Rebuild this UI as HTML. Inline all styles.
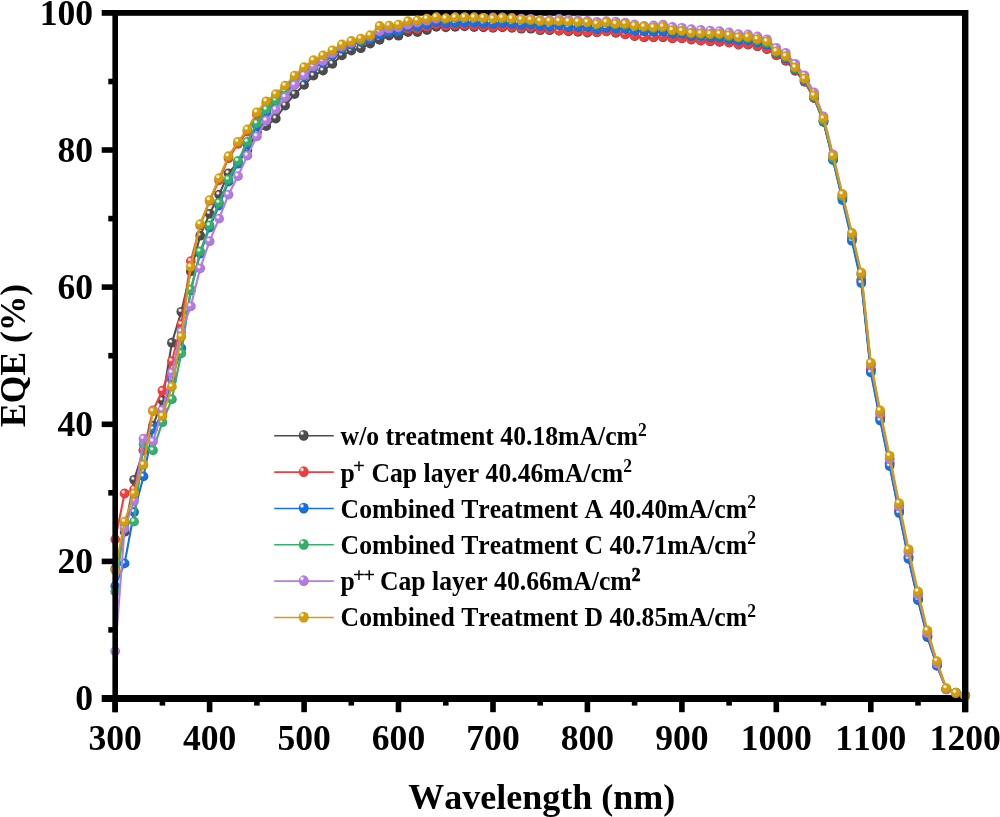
<!DOCTYPE html>
<html><head><meta charset="utf-8"><title>EQE</title>
<style>html,body{margin:0;padding:0;background:#fff}body{width:1000px;height:817px;overflow:hidden}svg{display:block}text{font-kerning:none}</style>
</head><body>
<svg width="1000" height="817" viewBox="0 0 1000 817">
<defs><radialGradient id="hl" cx="0.5" cy="0.5" r="0.5"><stop offset="0" stop-color="#fff" stop-opacity="1"/><stop offset="0.35" stop-color="#fff" stop-opacity="0.9"/><stop offset="0.7" stop-color="#fff" stop-opacity="0.4"/><stop offset="1" stop-color="#fff" stop-opacity="0"/></radialGradient><radialGradient id="k" cx="0.42" cy="0.42" r="0.62"><stop offset="0" stop-color="#4d4d4d"/><stop offset="0.7" stop-color="#4d4d4d"/><stop offset="1" stop-color="#424242"/></radialGradient><g id="mk"><ellipse cx="0" cy="0" rx="4.85" ry="4.9" fill="url(#k)"/><circle cx="-1.3" cy="-1.5" r="2.3" fill="url(#hl)"/></g><g id="lk"><ellipse cx="0" cy="0" rx="4.95" ry="5.35" fill="url(#k)"/><circle cx="-1.7" cy="-2.2" r="2.4" fill="url(#hl)"/></g><radialGradient id="r" cx="0.42" cy="0.42" r="0.62"><stop offset="0" stop-color="#f03e40"/><stop offset="0.7" stop-color="#f03e40"/><stop offset="1" stop-color="#ce3537"/></radialGradient><g id="mr"><ellipse cx="0" cy="0" rx="4.85" ry="4.9" fill="url(#r)"/><circle cx="-1.3" cy="-1.5" r="2.3" fill="url(#hl)"/></g><g id="lr"><ellipse cx="0" cy="0" rx="4.95" ry="5.35" fill="url(#r)"/><circle cx="-1.7" cy="-2.2" r="2.4" fill="url(#hl)"/></g><radialGradient id="b" cx="0.42" cy="0.42" r="0.62"><stop offset="0" stop-color="#1a6fdf"/><stop offset="0.7" stop-color="#1a6fdf"/><stop offset="1" stop-color="#165fbf"/></radialGradient><g id="mb"><ellipse cx="0" cy="0" rx="4.85" ry="4.9" fill="url(#b)"/><circle cx="-1.3" cy="-1.5" r="2.3" fill="url(#hl)"/></g><g id="lb"><ellipse cx="0" cy="0" rx="4.95" ry="5.35" fill="url(#b)"/><circle cx="-1.7" cy="-2.2" r="2.4" fill="url(#hl)"/></g><radialGradient id="g" cx="0.42" cy="0.42" r="0.62"><stop offset="0" stop-color="#35b06c"/><stop offset="0.7" stop-color="#35b06c"/><stop offset="1" stop-color="#2d975c"/></radialGradient><g id="mg"><ellipse cx="0" cy="0" rx="4.85" ry="4.9" fill="url(#g)"/><circle cx="-1.3" cy="-1.5" r="2.3" fill="url(#hl)"/></g><g id="lg"><ellipse cx="0" cy="0" rx="4.95" ry="5.35" fill="url(#g)"/><circle cx="-1.7" cy="-2.2" r="2.4" fill="url(#hl)"/></g><radialGradient id="p" cx="0.42" cy="0.42" r="0.62"><stop offset="0" stop-color="#b27de2"/><stop offset="0.7" stop-color="#b27de2"/><stop offset="1" stop-color="#996bc2"/></radialGradient><g id="mp"><ellipse cx="0" cy="0" rx="4.85" ry="4.9" fill="url(#p)"/><circle cx="-1.3" cy="-1.5" r="2.3" fill="url(#hl)"/></g><g id="lp"><ellipse cx="0" cy="0" rx="4.95" ry="5.35" fill="url(#p)"/><circle cx="-1.7" cy="-2.2" r="2.4" fill="url(#hl)"/></g><radialGradient id="o" cx="0.42" cy="0.42" r="0.62"><stop offset="0" stop-color="#d49e0a"/><stop offset="0.7" stop-color="#d49e0a"/><stop offset="1" stop-color="#b68708"/></radialGradient><g id="mo"><ellipse cx="0" cy="0" rx="4.85" ry="4.9" fill="url(#o)"/><circle cx="-1.3" cy="-1.5" r="2.3" fill="url(#hl)"/></g><g id="lo"><ellipse cx="0" cy="0" rx="4.95" ry="5.35" fill="url(#o)"/><circle cx="-1.7" cy="-2.2" r="2.4" fill="url(#hl)"/></g></defs>
<rect width="1000" height="817" fill="#fff"/>
<g fill="#000">
<rect x="101.7" y="695.0" width="866.3" height="7.0"/>
<rect x="101.7" y="10.0" width="866.3" height="5.8"/>
<rect x="112.4" y="698" width="5.6" height="14.2"/>
<rect x="159.6" y="698" width="5.6" height="7.6"/>
<rect x="206.8" y="698" width="5.6" height="14.2"/>
<rect x="254.1" y="698" width="5.6" height="7.6"/>
<rect x="301.3" y="698" width="5.6" height="14.2"/>
<rect x="348.5" y="698" width="5.6" height="7.6"/>
<rect x="395.7" y="698" width="5.6" height="14.2"/>
<rect x="443.0" y="698" width="5.6" height="7.6"/>
<rect x="490.2" y="698" width="5.6" height="14.2"/>
<rect x="537.4" y="698" width="5.6" height="7.6"/>
<rect x="584.6" y="698" width="5.6" height="14.2"/>
<rect x="631.8" y="698" width="5.6" height="7.6"/>
<rect x="679.1" y="698" width="5.6" height="14.2"/>
<rect x="726.3" y="698" width="5.6" height="7.6"/>
<rect x="773.5" y="698" width="5.6" height="14.2"/>
<rect x="820.7" y="698" width="5.6" height="7.6"/>
<rect x="868.0" y="698" width="5.6" height="14.2"/>
<rect x="915.2" y="698" width="5.6" height="7.6"/>
<rect x="962.4" y="698" width="5.6" height="14.2"/>
</g>
<polyline points="115.2,568.9 124.6,531.9 134.1,479.8 143.5,450.3 153.0,425.6 162.4,400.3 171.9,342.7 181.3,311.8 190.8,271.4 200.2,235.7 209.6,213.8 219.1,194.6 228.5,173.3 238.0,162.4 247.4,150.0 256.9,132.2 266.3,126.0 275.8,118.5 285.2,105.5 294.6,94.1 304.1,84.9 313.5,75.6 323.0,70.5 332.4,63.8 341.9,55.4 351.3,50.6 360.8,48.2 370.2,43.5 379.6,39.8 389.1,35.5 398.5,35.7 408.0,32.1 417.4,32.1 426.9,30.0 436.3,26.8 445.8,27.3 455.2,26.8 464.6,26.4 474.1,27.0 483.5,27.4 493.0,27.8 502.4,27.4 511.9,27.8 521.3,28.7 530.8,28.7 540.2,30.2 549.6,30.2 559.1,30.6 568.5,31.4 578.0,31.8 587.4,32.6 596.9,32.2 606.3,31.4 615.8,32.8 625.2,34.4 634.6,36.0 644.1,37.2 653.5,37.2 663.0,37.2 672.4,38.4 681.9,38.4 691.3,39.6 700.8,40.6 710.2,41.4 719.6,41.8 729.1,42.6 738.5,44.6 748.0,44.6 757.4,46.2 766.9,49.0 776.3,55.4 785.8,60.9 795.2,70.8 804.6,81.7 814.1,98.1 823.5,121.8 833.0,159.5 842.4,198.1 851.9,239.1 861.3,281.0 870.8,370.3 880.2,418.8 889.6,464.0 899.1,511.3 908.5,557.5 918.0,600.1 927.4,637.1 936.9,665.2 946.3,689.2 955.8,693.0 965.2,695.6" fill="none" stroke="#4d4d4d" stroke-width="2.1" stroke-linejoin="round"/>
<g><use href="#mk" x="115.2" y="568.9"/><use href="#mk" x="124.6" y="531.9"/><use href="#mk" x="134.1" y="479.8"/><use href="#mk" x="143.5" y="450.3"/><use href="#mk" x="153.0" y="425.6"/><use href="#mk" x="162.4" y="400.3"/><use href="#mk" x="171.9" y="342.7"/><use href="#mk" x="181.3" y="311.8"/><use href="#mk" x="190.8" y="271.4"/><use href="#mk" x="200.2" y="235.7"/><use href="#mk" x="209.6" y="213.8"/><use href="#mk" x="219.1" y="194.6"/><use href="#mk" x="228.5" y="173.3"/><use href="#mk" x="238.0" y="162.4"/><use href="#mk" x="247.4" y="150.0"/><use href="#mk" x="256.9" y="132.2"/><use href="#mk" x="266.3" y="126.0"/><use href="#mk" x="275.8" y="118.5"/><use href="#mk" x="285.2" y="105.5"/><use href="#mk" x="294.6" y="94.1"/><use href="#mk" x="304.1" y="84.9"/><use href="#mk" x="313.5" y="75.6"/><use href="#mk" x="323.0" y="70.5"/><use href="#mk" x="332.4" y="63.8"/><use href="#mk" x="341.9" y="55.4"/><use href="#mk" x="351.3" y="50.6"/><use href="#mk" x="360.8" y="48.2"/><use href="#mk" x="370.2" y="43.5"/><use href="#mk" x="379.6" y="39.8"/><use href="#mk" x="389.1" y="35.5"/><use href="#mk" x="398.5" y="35.7"/><use href="#mk" x="408.0" y="32.1"/><use href="#mk" x="417.4" y="32.1"/><use href="#mk" x="426.9" y="30.0"/><use href="#mk" x="436.3" y="26.8"/><use href="#mk" x="445.8" y="27.3"/><use href="#mk" x="455.2" y="26.8"/><use href="#mk" x="464.6" y="26.4"/><use href="#mk" x="474.1" y="27.0"/><use href="#mk" x="483.5" y="27.4"/><use href="#mk" x="493.0" y="27.8"/><use href="#mk" x="502.4" y="27.4"/><use href="#mk" x="511.9" y="27.8"/><use href="#mk" x="521.3" y="28.7"/><use href="#mk" x="530.8" y="28.7"/><use href="#mk" x="540.2" y="30.2"/><use href="#mk" x="549.6" y="30.2"/><use href="#mk" x="559.1" y="30.6"/><use href="#mk" x="568.5" y="31.4"/><use href="#mk" x="578.0" y="31.8"/><use href="#mk" x="587.4" y="32.6"/><use href="#mk" x="596.9" y="32.2"/><use href="#mk" x="606.3" y="31.4"/><use href="#mk" x="615.8" y="32.8"/><use href="#mk" x="625.2" y="34.4"/><use href="#mk" x="634.6" y="36.0"/><use href="#mk" x="644.1" y="37.2"/><use href="#mk" x="653.5" y="37.2"/><use href="#mk" x="663.0" y="37.2"/><use href="#mk" x="672.4" y="38.4"/><use href="#mk" x="681.9" y="38.4"/><use href="#mk" x="691.3" y="39.6"/><use href="#mk" x="700.8" y="40.6"/><use href="#mk" x="710.2" y="41.4"/><use href="#mk" x="719.6" y="41.8"/><use href="#mk" x="729.1" y="42.6"/><use href="#mk" x="738.5" y="44.6"/><use href="#mk" x="748.0" y="44.6"/><use href="#mk" x="757.4" y="46.2"/><use href="#mk" x="766.9" y="49.0"/><use href="#mk" x="776.3" y="55.4"/><use href="#mk" x="785.8" y="60.9"/><use href="#mk" x="795.2" y="70.8"/><use href="#mk" x="804.6" y="81.7"/><use href="#mk" x="814.1" y="98.1"/><use href="#mk" x="823.5" y="121.8"/><use href="#mk" x="833.0" y="159.5"/><use href="#mk" x="842.4" y="198.1"/><use href="#mk" x="851.9" y="239.1"/><use href="#mk" x="861.3" y="281.0"/><use href="#mk" x="870.8" y="370.3"/><use href="#mk" x="880.2" y="418.8"/><use href="#mk" x="889.6" y="464.0"/><use href="#mk" x="899.1" y="511.3"/><use href="#mk" x="908.5" y="557.5"/><use href="#mk" x="918.0" y="600.1"/><use href="#mk" x="927.4" y="637.1"/><use href="#mk" x="936.9" y="665.2"/><use href="#mk" x="946.3" y="689.2"/><use href="#mk" x="955.8" y="693.0"/><use href="#mk" x="965.2" y="695.6"/></g>
<polyline points="115.2,539.4 124.6,493.5 134.1,489.4 143.5,450.3 153.0,410.5 162.4,390.7 171.9,361.2 181.3,324.2 190.8,261.1 200.2,225.4 209.6,200.8 219.1,180.2 228.5,158.2 238.0,143.8 247.4,131.5 256.9,114.4 266.3,103.4 275.8,96.2 285.2,87.6 294.6,78.0 304.1,69.8 313.5,63.6 323.0,62.9 332.4,55.1 341.9,48.7 351.3,44.6 360.8,41.8 370.2,39.1 379.6,34.6 389.1,32.2 398.5,31.4 408.0,28.8 417.4,28.8 426.9,26.8 436.3,24.6 445.8,25.9 455.2,25.2 464.6,25.2 474.1,25.8 483.5,26.2 493.0,27.0 502.4,26.6 511.9,27.0 521.3,27.8 530.8,27.4 540.2,29.4 549.6,29.4 559.1,30.6 568.5,30.6 578.0,31.0 587.4,31.8 596.9,32.2 606.3,31.4 615.8,32.2 625.2,34.2 634.6,35.8 644.1,37.0 653.5,37.0 663.0,36.6 672.4,38.2 681.9,38.2 691.3,39.4 700.8,40.4 710.2,41.2 719.6,41.6 729.1,42.4 738.5,44.4 748.0,44.4 757.4,46.0 766.9,48.8 776.3,55.0 785.8,60.2 795.2,70.2 804.6,81.5 814.1,97.9 823.5,121.6 833.0,159.3 842.4,197.9 851.9,237.8 861.3,279.6 870.8,368.9 880.2,417.4 889.6,462.7 899.1,510.0 908.5,556.2 918.0,597.7 927.4,635.2 936.9,664.6 946.3,689.2 955.8,693.0 965.2,695.6" fill="none" stroke="#f03e40" stroke-width="2.1" stroke-linejoin="round"/>
<g><use href="#mr" x="115.2" y="539.4"/><use href="#mr" x="124.6" y="493.5"/><use href="#mr" x="134.1" y="489.4"/><use href="#mr" x="143.5" y="450.3"/><use href="#mr" x="153.0" y="410.5"/><use href="#mr" x="162.4" y="390.7"/><use href="#mr" x="171.9" y="361.2"/><use href="#mr" x="181.3" y="324.2"/><use href="#mr" x="190.8" y="261.1"/><use href="#mr" x="200.2" y="225.4"/><use href="#mr" x="209.6" y="200.8"/><use href="#mr" x="219.1" y="180.2"/><use href="#mr" x="228.5" y="158.2"/><use href="#mr" x="238.0" y="143.8"/><use href="#mr" x="247.4" y="131.5"/><use href="#mr" x="256.9" y="114.4"/><use href="#mr" x="266.3" y="103.4"/><use href="#mr" x="275.8" y="96.2"/><use href="#mr" x="285.2" y="87.6"/><use href="#mr" x="294.6" y="78.0"/><use href="#mr" x="304.1" y="69.8"/><use href="#mr" x="313.5" y="63.6"/><use href="#mr" x="323.0" y="62.9"/><use href="#mr" x="332.4" y="55.1"/><use href="#mr" x="341.9" y="48.7"/><use href="#mr" x="351.3" y="44.6"/><use href="#mr" x="360.8" y="41.8"/><use href="#mr" x="370.2" y="39.1"/><use href="#mr" x="379.6" y="34.6"/><use href="#mr" x="389.1" y="32.2"/><use href="#mr" x="398.5" y="31.4"/><use href="#mr" x="408.0" y="28.8"/><use href="#mr" x="417.4" y="28.8"/><use href="#mr" x="426.9" y="26.8"/><use href="#mr" x="436.3" y="24.6"/><use href="#mr" x="445.8" y="25.9"/><use href="#mr" x="455.2" y="25.2"/><use href="#mr" x="464.6" y="25.2"/><use href="#mr" x="474.1" y="25.8"/><use href="#mr" x="483.5" y="26.2"/><use href="#mr" x="493.0" y="27.0"/><use href="#mr" x="502.4" y="26.6"/><use href="#mr" x="511.9" y="27.0"/><use href="#mr" x="521.3" y="27.8"/><use href="#mr" x="530.8" y="27.4"/><use href="#mr" x="540.2" y="29.4"/><use href="#mr" x="549.6" y="29.4"/><use href="#mr" x="559.1" y="30.6"/><use href="#mr" x="568.5" y="30.6"/><use href="#mr" x="578.0" y="31.0"/><use href="#mr" x="587.4" y="31.8"/><use href="#mr" x="596.9" y="32.2"/><use href="#mr" x="606.3" y="31.4"/><use href="#mr" x="615.8" y="32.2"/><use href="#mr" x="625.2" y="34.2"/><use href="#mr" x="634.6" y="35.8"/><use href="#mr" x="644.1" y="37.0"/><use href="#mr" x="653.5" y="37.0"/><use href="#mr" x="663.0" y="36.6"/><use href="#mr" x="672.4" y="38.2"/><use href="#mr" x="681.9" y="38.2"/><use href="#mr" x="691.3" y="39.4"/><use href="#mr" x="700.8" y="40.4"/><use href="#mr" x="710.2" y="41.2"/><use href="#mr" x="719.6" y="41.6"/><use href="#mr" x="729.1" y="42.4"/><use href="#mr" x="738.5" y="44.4"/><use href="#mr" x="748.0" y="44.4"/><use href="#mr" x="757.4" y="46.0"/><use href="#mr" x="766.9" y="48.8"/><use href="#mr" x="776.3" y="55.0"/><use href="#mr" x="785.8" y="60.2"/><use href="#mr" x="795.2" y="70.2"/><use href="#mr" x="804.6" y="81.5"/><use href="#mr" x="814.1" y="97.9"/><use href="#mr" x="823.5" y="121.6"/><use href="#mr" x="833.0" y="159.3"/><use href="#mr" x="842.4" y="197.9"/><use href="#mr" x="851.9" y="237.8"/><use href="#mr" x="861.3" y="279.6"/><use href="#mr" x="870.8" y="368.9"/><use href="#mr" x="880.2" y="417.4"/><use href="#mr" x="889.6" y="462.7"/><use href="#mr" x="899.1" y="510.0"/><use href="#mr" x="908.5" y="556.2"/><use href="#mr" x="918.0" y="597.7"/><use href="#mr" x="927.4" y="635.2"/><use href="#mr" x="936.9" y="664.6"/><use href="#mr" x="946.3" y="689.2"/><use href="#mr" x="955.8" y="693.0"/><use href="#mr" x="965.2" y="695.6"/></g>
<polyline points="115.2,586.1 124.6,563.4 134.1,512.0 143.5,476.4 153.0,429.1 162.4,414.0 171.9,379.7 181.3,348.2 190.8,290.6 200.2,253.5 209.6,227.5 219.1,205.6 228.5,181.6 238.0,163.7 247.4,144.5 256.9,126.0 266.3,112.3 275.8,102.7 285.2,93.8 294.6,82.8 304.1,76.3 313.5,67.7 323.0,62.9 332.4,55.1 341.9,48.7 351.3,44.6 360.8,41.8 370.2,39.1 379.6,34.6 389.1,32.2 398.5,31.4 408.0,26.8 417.4,26.6 426.9,24.6 436.3,22.0 445.8,23.2 455.2,22.8 464.6,22.5 474.1,22.6 483.5,23.4 493.0,23.9 502.4,23.0 511.9,23.9 521.3,24.7 530.8,24.3 540.2,25.8 549.6,26.6 559.1,25.4 568.5,27.0 578.0,27.0 587.4,27.0 596.9,29.0 606.3,27.8 615.8,28.6 625.2,29.0 634.6,31.0 644.1,31.4 653.5,31.8 663.0,31.8 672.4,33.8 681.9,33.8 691.3,35.8 700.8,36.0 710.2,37.2 719.6,37.6 729.1,38.8 738.5,40.4 748.0,40.4 757.4,42.4 766.9,44.8 776.3,53.1 785.8,58.2 795.2,69.1 804.6,80.2 814.1,97.2 823.5,121.6 833.0,160.0 842.4,200.0 851.9,240.9 861.3,283.0 870.8,372.4 880.2,420.5 889.6,466.1 899.1,513.0 908.5,558.9 918.0,599.8 927.4,636.2 936.9,665.9 946.3,689.2 955.8,693.0 965.2,695.6" fill="none" stroke="#1a6fdf" stroke-width="2.1" stroke-linejoin="round"/>
<g><use href="#mb" x="115.2" y="586.1"/><use href="#mb" x="124.6" y="563.4"/><use href="#mb" x="134.1" y="512.0"/><use href="#mb" x="143.5" y="476.4"/><use href="#mb" x="153.0" y="429.1"/><use href="#mb" x="162.4" y="414.0"/><use href="#mb" x="171.9" y="379.7"/><use href="#mb" x="181.3" y="348.2"/><use href="#mb" x="190.8" y="290.6"/><use href="#mb" x="200.2" y="253.5"/><use href="#mb" x="209.6" y="227.5"/><use href="#mb" x="219.1" y="205.6"/><use href="#mb" x="228.5" y="181.6"/><use href="#mb" x="238.0" y="163.7"/><use href="#mb" x="247.4" y="144.5"/><use href="#mb" x="256.9" y="126.0"/><use href="#mb" x="266.3" y="112.3"/><use href="#mb" x="275.8" y="102.7"/><use href="#mb" x="285.2" y="93.8"/><use href="#mb" x="294.6" y="82.8"/><use href="#mb" x="304.1" y="76.3"/><use href="#mb" x="313.5" y="67.7"/><use href="#mb" x="323.0" y="62.9"/><use href="#mb" x="332.4" y="55.1"/><use href="#mb" x="341.9" y="48.7"/><use href="#mb" x="351.3" y="44.6"/><use href="#mb" x="360.8" y="41.8"/><use href="#mb" x="370.2" y="39.1"/><use href="#mb" x="379.6" y="34.6"/><use href="#mb" x="389.1" y="32.2"/><use href="#mb" x="398.5" y="31.4"/><use href="#mb" x="408.0" y="26.8"/><use href="#mb" x="417.4" y="26.6"/><use href="#mb" x="426.9" y="24.6"/><use href="#mb" x="436.3" y="22.0"/><use href="#mb" x="445.8" y="23.2"/><use href="#mb" x="455.2" y="22.8"/><use href="#mb" x="464.6" y="22.5"/><use href="#mb" x="474.1" y="22.6"/><use href="#mb" x="483.5" y="23.4"/><use href="#mb" x="493.0" y="23.9"/><use href="#mb" x="502.4" y="23.0"/><use href="#mb" x="511.9" y="23.9"/><use href="#mb" x="521.3" y="24.7"/><use href="#mb" x="530.8" y="24.3"/><use href="#mb" x="540.2" y="25.8"/><use href="#mb" x="549.6" y="26.6"/><use href="#mb" x="559.1" y="25.4"/><use href="#mb" x="568.5" y="27.0"/><use href="#mb" x="578.0" y="27.0"/><use href="#mb" x="587.4" y="27.0"/><use href="#mb" x="596.9" y="29.0"/><use href="#mb" x="606.3" y="27.8"/><use href="#mb" x="615.8" y="28.6"/><use href="#mb" x="625.2" y="29.0"/><use href="#mb" x="634.6" y="31.0"/><use href="#mb" x="644.1" y="31.4"/><use href="#mb" x="653.5" y="31.8"/><use href="#mb" x="663.0" y="31.8"/><use href="#mb" x="672.4" y="33.8"/><use href="#mb" x="681.9" y="33.8"/><use href="#mb" x="691.3" y="35.8"/><use href="#mb" x="700.8" y="36.0"/><use href="#mb" x="710.2" y="37.2"/><use href="#mb" x="719.6" y="37.6"/><use href="#mb" x="729.1" y="38.8"/><use href="#mb" x="738.5" y="40.4"/><use href="#mb" x="748.0" y="40.4"/><use href="#mb" x="757.4" y="42.4"/><use href="#mb" x="766.9" y="44.8"/><use href="#mb" x="776.3" y="53.1"/><use href="#mb" x="785.8" y="58.2"/><use href="#mb" x="795.2" y="69.1"/><use href="#mb" x="804.6" y="80.2"/><use href="#mb" x="814.1" y="97.2"/><use href="#mb" x="823.5" y="121.6"/><use href="#mb" x="833.0" y="160.0"/><use href="#mb" x="842.4" y="200.0"/><use href="#mb" x="851.9" y="240.9"/><use href="#mb" x="861.3" y="283.0"/><use href="#mb" x="870.8" y="372.4"/><use href="#mb" x="880.2" y="420.5"/><use href="#mb" x="889.6" y="466.1"/><use href="#mb" x="899.1" y="513.0"/><use href="#mb" x="908.5" y="558.9"/><use href="#mb" x="918.0" y="599.8"/><use href="#mb" x="927.4" y="636.2"/><use href="#mb" x="936.9" y="665.9"/><use href="#mb" x="946.3" y="689.2"/><use href="#mb" x="955.8" y="693.0"/><use href="#mb" x="965.2" y="695.6"/></g>
<polyline points="115.2,591.5 124.6,523.7 134.1,521.6 143.5,444.1 153.0,450.3 162.4,422.2 171.9,399.2 181.3,353.3 190.8,289.5 200.2,251.5 209.6,225.4 219.1,202.8 228.5,179.5 238.0,161.0 247.4,141.8 256.9,123.3 266.3,109.6 275.8,100.3 285.2,91.1 294.6,80.1 304.1,71.2 313.5,63.6 323.0,58.1 332.4,52.7 341.9,47.2 351.3,43.1 360.8,40.3 370.2,36.9 379.6,29.4 389.1,28.0 398.5,26.6 408.0,23.2 417.4,21.8 426.9,19.4 436.3,17.7 445.8,18.6 455.2,17.6 464.6,17.5 474.1,17.6 483.5,18.0 493.0,18.8 502.4,18.0 511.9,18.8 521.3,19.6 530.8,20.0 540.2,21.2 549.6,21.3 559.1,21.2 568.5,21.6 578.0,22.0 587.4,22.4 596.9,24.0 606.3,22.4 615.8,24.0 625.2,24.5 634.6,26.1 644.1,27.0 653.5,28.0 663.0,27.3 672.4,30.5 681.9,31.3 691.3,33.3 700.8,33.8 710.2,34.4 719.6,34.6 729.1,36.3 738.5,37.6 748.0,38.1 757.4,40.4 766.9,42.9 776.3,52.3 785.8,57.1 795.2,68.2 804.6,79.4 814.1,96.5 823.5,120.5 833.0,157.9 842.4,196.2 851.9,235.0 861.3,274.8 870.8,364.8 880.2,413.2 889.6,458.9 899.1,505.2 908.5,551.4 918.0,593.6 927.4,632.1 936.9,662.5 946.3,688.9 955.8,692.7 965.2,695.6" fill="none" stroke="#35b06c" stroke-width="2.1" stroke-linejoin="round"/>
<g><use href="#mg" x="115.2" y="591.5"/><use href="#mg" x="124.6" y="523.7"/><use href="#mg" x="134.1" y="521.6"/><use href="#mg" x="143.5" y="444.1"/><use href="#mg" x="153.0" y="450.3"/><use href="#mg" x="162.4" y="422.2"/><use href="#mg" x="171.9" y="399.2"/><use href="#mg" x="181.3" y="353.3"/><use href="#mg" x="190.8" y="289.5"/><use href="#mg" x="200.2" y="251.5"/><use href="#mg" x="209.6" y="225.4"/><use href="#mg" x="219.1" y="202.8"/><use href="#mg" x="228.5" y="179.5"/><use href="#mg" x="238.0" y="161.0"/><use href="#mg" x="247.4" y="141.8"/><use href="#mg" x="256.9" y="123.3"/><use href="#mg" x="266.3" y="109.6"/><use href="#mg" x="275.8" y="100.3"/><use href="#mg" x="285.2" y="91.1"/><use href="#mg" x="294.6" y="80.1"/><use href="#mg" x="304.1" y="71.2"/><use href="#mg" x="313.5" y="63.6"/><use href="#mg" x="323.0" y="58.1"/><use href="#mg" x="332.4" y="52.7"/><use href="#mg" x="341.9" y="47.2"/><use href="#mg" x="351.3" y="43.1"/><use href="#mg" x="360.8" y="40.3"/><use href="#mg" x="370.2" y="36.9"/><use href="#mg" x="379.6" y="29.4"/><use href="#mg" x="389.1" y="28.0"/><use href="#mg" x="398.5" y="26.6"/><use href="#mg" x="408.0" y="23.2"/><use href="#mg" x="417.4" y="21.8"/><use href="#mg" x="426.9" y="19.4"/><use href="#mg" x="436.3" y="17.7"/><use href="#mg" x="445.8" y="18.6"/><use href="#mg" x="455.2" y="17.6"/><use href="#mg" x="464.6" y="17.5"/><use href="#mg" x="474.1" y="17.6"/><use href="#mg" x="483.5" y="18.0"/><use href="#mg" x="493.0" y="18.8"/><use href="#mg" x="502.4" y="18.0"/><use href="#mg" x="511.9" y="18.8"/><use href="#mg" x="521.3" y="19.6"/><use href="#mg" x="530.8" y="20.0"/><use href="#mg" x="540.2" y="21.2"/><use href="#mg" x="549.6" y="21.3"/><use href="#mg" x="559.1" y="21.2"/><use href="#mg" x="568.5" y="21.6"/><use href="#mg" x="578.0" y="22.0"/><use href="#mg" x="587.4" y="22.4"/><use href="#mg" x="596.9" y="24.0"/><use href="#mg" x="606.3" y="22.4"/><use href="#mg" x="615.8" y="24.0"/><use href="#mg" x="625.2" y="24.5"/><use href="#mg" x="634.6" y="26.1"/><use href="#mg" x="644.1" y="27.0"/><use href="#mg" x="653.5" y="28.0"/><use href="#mg" x="663.0" y="27.3"/><use href="#mg" x="672.4" y="30.5"/><use href="#mg" x="681.9" y="31.3"/><use href="#mg" x="691.3" y="33.3"/><use href="#mg" x="700.8" y="33.8"/><use href="#mg" x="710.2" y="34.4"/><use href="#mg" x="719.6" y="34.6"/><use href="#mg" x="729.1" y="36.3"/><use href="#mg" x="738.5" y="37.6"/><use href="#mg" x="748.0" y="38.1"/><use href="#mg" x="757.4" y="40.4"/><use href="#mg" x="766.9" y="42.9"/><use href="#mg" x="776.3" y="52.3"/><use href="#mg" x="785.8" y="57.1"/><use href="#mg" x="795.2" y="68.2"/><use href="#mg" x="804.6" y="79.4"/><use href="#mg" x="814.1" y="96.5"/><use href="#mg" x="823.5" y="120.5"/><use href="#mg" x="833.0" y="157.9"/><use href="#mg" x="842.4" y="196.2"/><use href="#mg" x="851.9" y="235.0"/><use href="#mg" x="861.3" y="274.8"/><use href="#mg" x="870.8" y="364.8"/><use href="#mg" x="880.2" y="413.2"/><use href="#mg" x="889.6" y="458.9"/><use href="#mg" x="899.1" y="505.2"/><use href="#mg" x="908.5" y="551.4"/><use href="#mg" x="918.0" y="593.6"/><use href="#mg" x="927.4" y="632.1"/><use href="#mg" x="936.9" y="662.5"/><use href="#mg" x="946.3" y="688.9"/><use href="#mg" x="955.8" y="692.7"/><use href="#mg" x="965.2" y="695.6"/></g>
<polyline points="115.2,651.2 124.6,528.5 134.1,501.0 143.5,438.7 153.0,441.4 162.4,410.2 171.9,372.8 181.3,331.7 190.8,306.3 200.2,268.3 209.6,241.2 219.1,218.6 228.5,194.6 238.0,176.1 247.4,155.5 256.9,136.3 266.3,120.5 275.8,109.6 285.2,97.2 294.6,84.9 304.1,75.3 313.5,66.4 323.0,61.0 332.4,53.5 341.9,46.3 351.3,42.7 360.8,39.3 370.2,36.2 379.6,31.4 389.1,28.7 398.5,27.6 408.0,24.8 417.4,22.5 426.9,20.9 436.3,18.9 445.8,18.4 455.2,17.4 464.6,17.3 474.1,17.4 483.5,17.8 493.0,17.4 502.4,17.5 511.9,17.9 521.3,18.6 530.8,18.8 540.2,20.0 549.6,20.2 559.1,19.0 568.5,19.7 578.0,20.4 587.4,20.9 596.9,21.8 606.3,21.2 615.8,21.7 625.2,22.6 634.6,24.4 644.1,25.9 653.5,25.4 663.0,24.6 672.4,27.0 681.9,27.8 691.3,29.2 700.8,29.9 710.2,30.6 719.6,31.1 729.1,32.4 738.5,34.1 748.0,34.5 757.4,36.5 766.9,39.3 776.3,47.9 785.8,53.0 795.2,63.8 804.6,75.4 814.1,92.4 823.5,116.4 833.0,154.5 842.4,194.2 851.9,233.7 861.3,273.8 870.8,364.8 880.2,413.6 889.6,458.9 899.1,506.2 908.5,552.4 918.0,594.6 927.4,633.2 936.9,663.5 946.3,689.6 955.8,693.0 965.2,695.6" fill="none" stroke="#b27de2" stroke-width="2.1" stroke-linejoin="round"/>
<g><use href="#mp" x="115.2" y="651.2"/><use href="#mp" x="124.6" y="528.5"/><use href="#mp" x="134.1" y="501.0"/><use href="#mp" x="143.5" y="438.7"/><use href="#mp" x="153.0" y="441.4"/><use href="#mp" x="162.4" y="410.2"/><use href="#mp" x="171.9" y="372.8"/><use href="#mp" x="181.3" y="331.7"/><use href="#mp" x="190.8" y="306.3"/><use href="#mp" x="200.2" y="268.3"/><use href="#mp" x="209.6" y="241.2"/><use href="#mp" x="219.1" y="218.6"/><use href="#mp" x="228.5" y="194.6"/><use href="#mp" x="238.0" y="176.1"/><use href="#mp" x="247.4" y="155.5"/><use href="#mp" x="256.9" y="136.3"/><use href="#mp" x="266.3" y="120.5"/><use href="#mp" x="275.8" y="109.6"/><use href="#mp" x="285.2" y="97.2"/><use href="#mp" x="294.6" y="84.9"/><use href="#mp" x="304.1" y="75.3"/><use href="#mp" x="313.5" y="66.4"/><use href="#mp" x="323.0" y="61.0"/><use href="#mp" x="332.4" y="53.5"/><use href="#mp" x="341.9" y="46.3"/><use href="#mp" x="351.3" y="42.7"/><use href="#mp" x="360.8" y="39.3"/><use href="#mp" x="370.2" y="36.2"/><use href="#mp" x="379.6" y="31.4"/><use href="#mp" x="389.1" y="28.7"/><use href="#mp" x="398.5" y="27.6"/><use href="#mp" x="408.0" y="24.8"/><use href="#mp" x="417.4" y="22.5"/><use href="#mp" x="426.9" y="20.9"/><use href="#mp" x="436.3" y="18.9"/><use href="#mp" x="445.8" y="18.4"/><use href="#mp" x="455.2" y="17.4"/><use href="#mp" x="464.6" y="17.3"/><use href="#mp" x="474.1" y="17.4"/><use href="#mp" x="483.5" y="17.8"/><use href="#mp" x="493.0" y="17.4"/><use href="#mp" x="502.4" y="17.5"/><use href="#mp" x="511.9" y="17.9"/><use href="#mp" x="521.3" y="18.6"/><use href="#mp" x="530.8" y="18.8"/><use href="#mp" x="540.2" y="20.0"/><use href="#mp" x="549.6" y="20.2"/><use href="#mp" x="559.1" y="19.0"/><use href="#mp" x="568.5" y="19.7"/><use href="#mp" x="578.0" y="20.4"/><use href="#mp" x="587.4" y="20.9"/><use href="#mp" x="596.9" y="21.8"/><use href="#mp" x="606.3" y="21.2"/><use href="#mp" x="615.8" y="21.7"/><use href="#mp" x="625.2" y="22.6"/><use href="#mp" x="634.6" y="24.4"/><use href="#mp" x="644.1" y="25.9"/><use href="#mp" x="653.5" y="25.4"/><use href="#mp" x="663.0" y="24.6"/><use href="#mp" x="672.4" y="27.0"/><use href="#mp" x="681.9" y="27.8"/><use href="#mp" x="691.3" y="29.2"/><use href="#mp" x="700.8" y="29.9"/><use href="#mp" x="710.2" y="30.6"/><use href="#mp" x="719.6" y="31.1"/><use href="#mp" x="729.1" y="32.4"/><use href="#mp" x="738.5" y="34.1"/><use href="#mp" x="748.0" y="34.5"/><use href="#mp" x="757.4" y="36.5"/><use href="#mp" x="766.9" y="39.3"/><use href="#mp" x="776.3" y="47.9"/><use href="#mp" x="785.8" y="53.0"/><use href="#mp" x="795.2" y="63.8"/><use href="#mp" x="804.6" y="75.4"/><use href="#mp" x="814.1" y="92.4"/><use href="#mp" x="823.5" y="116.4"/><use href="#mp" x="833.0" y="154.5"/><use href="#mp" x="842.4" y="194.2"/><use href="#mp" x="851.9" y="233.7"/><use href="#mp" x="861.3" y="273.8"/><use href="#mp" x="870.8" y="364.8"/><use href="#mp" x="880.2" y="413.6"/><use href="#mp" x="889.6" y="458.9"/><use href="#mp" x="899.1" y="506.2"/><use href="#mp" x="908.5" y="552.4"/><use href="#mp" x="918.0" y="594.6"/><use href="#mp" x="927.4" y="633.2"/><use href="#mp" x="936.9" y="663.5"/><use href="#mp" x="946.3" y="689.6"/><use href="#mp" x="955.8" y="693.0"/><use href="#mp" x="965.2" y="695.6"/></g>
<polyline points="115.2,570.3 124.6,521.6 134.1,493.5 143.5,464.7 153.0,411.2 162.4,416.0 171.9,386.6 181.3,336.5 190.8,266.8 200.2,224.1 209.6,200.1 219.1,178.1 228.5,156.2 238.0,141.8 247.4,129.5 256.9,112.3 266.3,101.3 275.8,94.1 285.2,85.6 294.6,75.6 304.1,67.1 313.5,60.2 323.0,55.4 332.4,50.3 341.9,44.4 351.3,41.0 360.8,38.6 370.2,35.2 379.6,25.9 389.1,25.6 398.5,24.6 408.0,21.1 417.4,20.4 426.9,18.7 436.3,17.2 445.8,18.4 455.2,17.4 464.6,17.3 474.1,17.4 483.5,17.8 493.0,18.6 502.4,17.8 511.9,18.6 521.3,19.4 530.8,19.8 540.2,21.0 549.6,21.1 559.1,21.0 568.5,21.4 578.0,21.8 587.4,22.2 596.9,23.8 606.3,22.2 615.8,23.8 625.2,23.8 634.6,25.8 644.1,26.6 653.5,27.4 663.0,26.6 672.4,30.2 681.9,31.0 691.3,33.0 700.8,33.5 710.2,34.0 719.6,33.8 729.1,35.2 738.5,37.2 748.0,36.9 757.4,39.2 766.9,41.4 776.3,51.3 785.8,56.2 795.2,67.4 804.6,78.6 814.1,95.5 823.5,118.5 833.0,155.8 842.4,194.2 851.9,233.0 861.3,272.7 870.8,362.8 880.2,410.5 889.6,455.8 899.1,503.1 908.5,549.3 918.0,591.5 927.4,630.4 936.9,661.1 946.3,688.2 955.8,692.7 965.2,695.6" fill="none" stroke="#d49e0a" stroke-width="2.1" stroke-linejoin="round"/>
<g><use href="#mo" x="115.2" y="570.3"/><use href="#mo" x="124.6" y="521.6"/><use href="#mo" x="134.1" y="493.5"/><use href="#mo" x="143.5" y="464.7"/><use href="#mo" x="153.0" y="411.2"/><use href="#mo" x="162.4" y="416.0"/><use href="#mo" x="171.9" y="386.6"/><use href="#mo" x="181.3" y="336.5"/><use href="#mo" x="190.8" y="266.8"/><use href="#mo" x="200.2" y="224.1"/><use href="#mo" x="209.6" y="200.1"/><use href="#mo" x="219.1" y="178.1"/><use href="#mo" x="228.5" y="156.2"/><use href="#mo" x="238.0" y="141.8"/><use href="#mo" x="247.4" y="129.5"/><use href="#mo" x="256.9" y="112.3"/><use href="#mo" x="266.3" y="101.3"/><use href="#mo" x="275.8" y="94.1"/><use href="#mo" x="285.2" y="85.6"/><use href="#mo" x="294.6" y="75.6"/><use href="#mo" x="304.1" y="67.1"/><use href="#mo" x="313.5" y="60.2"/><use href="#mo" x="323.0" y="55.4"/><use href="#mo" x="332.4" y="50.3"/><use href="#mo" x="341.9" y="44.4"/><use href="#mo" x="351.3" y="41.0"/><use href="#mo" x="360.8" y="38.6"/><use href="#mo" x="370.2" y="35.2"/><use href="#mo" x="379.6" y="25.9"/><use href="#mo" x="389.1" y="25.6"/><use href="#mo" x="398.5" y="24.6"/><use href="#mo" x="408.0" y="21.1"/><use href="#mo" x="417.4" y="20.4"/><use href="#mo" x="426.9" y="18.7"/><use href="#mo" x="436.3" y="17.2"/><use href="#mo" x="445.8" y="18.4"/><use href="#mo" x="455.2" y="17.4"/><use href="#mo" x="464.6" y="17.3"/><use href="#mo" x="474.1" y="17.4"/><use href="#mo" x="483.5" y="17.8"/><use href="#mo" x="493.0" y="18.6"/><use href="#mo" x="502.4" y="17.8"/><use href="#mo" x="511.9" y="18.6"/><use href="#mo" x="521.3" y="19.4"/><use href="#mo" x="530.8" y="19.8"/><use href="#mo" x="540.2" y="21.0"/><use href="#mo" x="549.6" y="21.1"/><use href="#mo" x="559.1" y="21.0"/><use href="#mo" x="568.5" y="21.4"/><use href="#mo" x="578.0" y="21.8"/><use href="#mo" x="587.4" y="22.2"/><use href="#mo" x="596.9" y="23.8"/><use href="#mo" x="606.3" y="22.2"/><use href="#mo" x="615.8" y="23.8"/><use href="#mo" x="625.2" y="23.8"/><use href="#mo" x="634.6" y="25.8"/><use href="#mo" x="644.1" y="26.6"/><use href="#mo" x="653.5" y="27.4"/><use href="#mo" x="663.0" y="26.6"/><use href="#mo" x="672.4" y="30.2"/><use href="#mo" x="681.9" y="31.0"/><use href="#mo" x="691.3" y="33.0"/><use href="#mo" x="700.8" y="33.5"/><use href="#mo" x="710.2" y="34.0"/><use href="#mo" x="719.6" y="33.8"/><use href="#mo" x="729.1" y="35.2"/><use href="#mo" x="738.5" y="37.2"/><use href="#mo" x="748.0" y="36.9"/><use href="#mo" x="757.4" y="39.2"/><use href="#mo" x="766.9" y="41.4"/><use href="#mo" x="776.3" y="51.3"/><use href="#mo" x="785.8" y="56.2"/><use href="#mo" x="795.2" y="67.4"/><use href="#mo" x="804.6" y="78.6"/><use href="#mo" x="814.1" y="95.5"/><use href="#mo" x="823.5" y="118.5"/><use href="#mo" x="833.0" y="155.8"/><use href="#mo" x="842.4" y="194.2"/><use href="#mo" x="851.9" y="233.0"/><use href="#mo" x="861.3" y="272.7"/><use href="#mo" x="870.8" y="362.8"/><use href="#mo" x="880.2" y="410.5"/><use href="#mo" x="889.6" y="455.8"/><use href="#mo" x="899.1" y="503.1"/><use href="#mo" x="908.5" y="549.3"/><use href="#mo" x="918.0" y="591.5"/><use href="#mo" x="927.4" y="630.4"/><use href="#mo" x="936.9" y="661.1"/><use href="#mo" x="946.3" y="688.2"/><use href="#mo" x="955.8" y="692.7"/><use href="#mo" x="965.2" y="695.6"/></g>
<g fill="#000">
<rect x="112.4" y="10" width="5.6" height="702.2"/>
<rect x="962.0" y="10" width="6.3999999999999995" height="702.2"/>
<rect x="108.3" y="627.1" width="6" height="5.6"/>
<rect x="101.7" y="558.6" width="12" height="5.6"/>
<rect x="108.3" y="490.0" width="6" height="5.6"/>
<rect x="101.7" y="421.5" width="12" height="5.6"/>
<rect x="108.3" y="352.9" width="6" height="5.6"/>
<rect x="101.7" y="284.3" width="12" height="5.6"/>
<rect x="108.3" y="215.8" width="6" height="5.6"/>
<rect x="101.7" y="147.2" width="12" height="5.6"/>
<rect x="108.3" y="78.7" width="6" height="5.6"/>
</g>
<g font-family="'Liberation Serif', serif" font-weight="bold" font-size="35.6px" fill="#000">
<text x="115.2" y="750" text-anchor="middle">300</text>
<text x="209.6" y="750" text-anchor="middle">400</text>
<text x="304.1" y="750" text-anchor="middle">500</text>
<text x="398.5" y="750" text-anchor="middle">600</text>
<text x="493.0" y="750" text-anchor="middle">700</text>
<text x="587.4" y="750" text-anchor="middle">800</text>
<text x="681.9" y="750" text-anchor="middle">900</text>
<text x="776.3" y="750" text-anchor="middle">1000</text>
<text x="870.8" y="750" text-anchor="middle">1100</text>
<text x="965.2" y="750" text-anchor="middle">1200</text>
<text x="93" y="710.2" text-anchor="end">0</text>
<text x="93" y="573.1" text-anchor="end">20</text>
<text x="93" y="436.0" text-anchor="end">40</text>
<text x="93" y="298.8" text-anchor="end">60</text>
<text x="93" y="161.7" text-anchor="end">80</text>
<text x="93" y="24.6" text-anchor="end">100</text>
</g>
<text x="541.7" y="809.4" text-anchor="middle" font-family="'Liberation Serif', serif" font-weight="bold" font-size="36px" fill="#000" style="font-kerning:none">Wavelength (nm)</text>
<text transform="translate(25,355.4) rotate(-90)" text-anchor="middle" font-family="'Liberation Serif', serif" font-weight="bold" font-size="35.5px" fill="#000" style="font-kerning:none">EQE (%)</text>
<g font-family="'Liberation Serif', serif" font-weight="bold" font-size="25.7px" fill="#000">
<line x1="274.2" y1="435.8" x2="333.8" y2="435.8" stroke="#4d4d4d" stroke-width="1.6"/>
<use href="#lk" x="303.7" y="435.4"/>
<text transform="translate(340.6,445.4) scale(1,1.045)">w/o treatment 40.18mA/cm<tspan dy="-9.19" font-size="17.5px">2</tspan></text>
<line x1="274.2" y1="472.1" x2="333.8" y2="472.1" stroke="#f03e40" stroke-width="1.6"/>
<use href="#lr" x="303.7" y="471.7"/>
<text transform="translate(340.6,481.6) scale(1,1.045)">p<tspan x="18.4" y="-8.23" font-size="21px" text-anchor="middle">+</tspan><tspan x="24.4" y="0"> Cap layer 40.46mA/cm</tspan><tspan dy="-9.19" font-size="17.5px">2</tspan></text>
<line x1="274.2" y1="508.5" x2="333.8" y2="508.5" stroke="#1a6fdf" stroke-width="1.6"/>
<use href="#lb" x="303.7" y="508.1"/>
<text transform="translate(340.6,517.7) scale(1,1.045)">Combined Treatment A 40.40mA/cm<tspan dy="-9.19" font-size="17.5px">2</tspan></text>
<line x1="274.2" y1="544.8" x2="333.8" y2="544.8" stroke="#35b06c" stroke-width="1.6"/>
<use href="#lg" x="303.7" y="544.4"/>
<text transform="translate(340.6,553.9) scale(1,1.045)">Combined Treatment C 40.71mA/cm<tspan dy="-9.19" font-size="17.5px">2</tspan></text>
<line x1="274.2" y1="581.1" x2="333.8" y2="581.1" stroke="#b27de2" stroke-width="1.6"/>
<use href="#lp" x="303.7" y="580.7"/>
<text transform="translate(340.6,590.1) scale(1,1.045)">p<tspan x="18.4" y="-8.23" font-size="21px" text-anchor="middle">+</tspan><tspan x="28.6" y="-8.23" font-size="21px" text-anchor="middle">+</tspan><tspan x="32.9" y="0"> Cap layer 40.66mA/cm</tspan><tspan dy="-9.19" font-size="17.5px" stroke="#000" stroke-width="0.7">2</tspan></text>
<line x1="274.2" y1="617.5" x2="333.8" y2="617.5" stroke="#d49e0a" stroke-width="1.6"/>
<use href="#lo" x="303.7" y="617.1"/>
<text transform="translate(340.6,626.2) scale(1,1.045)">Combined Treatment D 40.85mA/cm<tspan dy="-9.19" font-size="17.5px">2</tspan></text>
</g>
</svg>
</body></html>
